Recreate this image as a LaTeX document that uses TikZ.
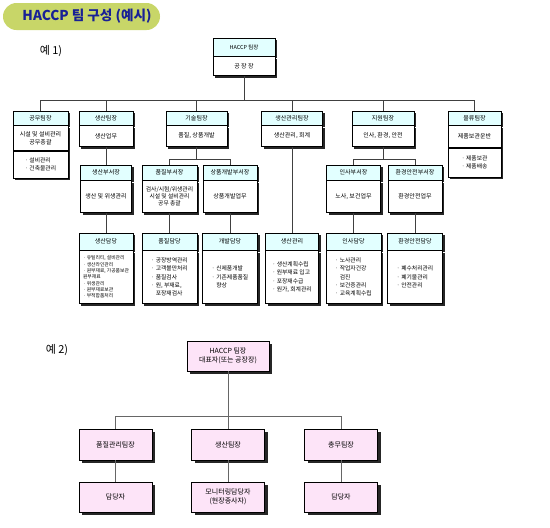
\documentclass[tikz,border=0pt]{standalone}
\usepackage{fontspec}
\setmainfont{Noto Sans CJK KR}
\usetikzlibrary{positioning,shadows}
\definecolor{cian}{RGB}{226,255,255}
\definecolor{rosa}{RGB}{253,228,248}
\definecolor{oliva}{RGB}{200,214,104}
\definecolor{azul}{RGB}{24,32,150}

\begin{document}
\begin{tikzpicture}[x=1pt,y=-1pt]
	\useasboundingbox (0,0) rectangle (550,528);

	%DEFINICIONES
	\tikzstyle{every node}=[font=\fontsize{6}{8}\selectfont]
	\tikzstyle{sombra} = [drop shadow={shadow xshift=2pt, shadow yshift=-2pt, fill=black!85, opacity=1}]
	\tikzstyle{cabeza} = [draw, sombra, fill=cian, line width=0.5pt, inner sep=0pt, align=center]
	\tikzstyle{cuerpo} = [draw, sombra, fill=white, line width=0.5pt, inner sep=0pt, align=center]
	\tikzstyle{lista} = [cuerpo, align=left, font=\fontsize{5.8}{8.4}\selectfont]
	\tikzstyle{caja} = [draw, fill=rosa, line width=0.5pt, inner sep=0pt, align=center, font=\fontsize{7}{9}\selectfont, drop shadow={shadow xshift=3pt, shadow yshift=-3pt, fill=black!85, opacity=1}, minimum width=73, minimum height=31]
	\tikzstyle{linea} = [line width=0.7pt, black!75]
	\tikzstyle{linea2} = [line width=0.9pt, black!60]

	%TITULO
	\draw(81.5,16.5) node[fill=oliva, rounded corners=13.5, minimum width=157, minimum height=27](pildora){};
	\draw(87,16.5) node[font=\fontsize{13.6}{15}\selectfont\bfseries, text=azul](titulo){HACCP 팀 구성 (예시)};
	\draw(51,51) node[font=\fontsize{11}{13}\selectfont](ej1){예 1)};
	\draw(57,350) node[font=\fontsize{11}{13}\selectfont](ej2){예 2)};

	%BLOQUES EJEMPLO 1
	\draw(244,47) node[cabeza, minimum width=62, minimum height=18, font=\fontsize{5.5}{7}\selectfont](jefe){HACCP 팀장};
	\node[cuerpo, minimum width=62, minimum height=19, below=0pt of jefe](jefe-b){공 장 장};

	\draw(40.5,118) node[cabeza, minimum width=55, minimum height=14](gm){공무팀장};
	\node[cuerpo, minimum width=55, minimum height=25, below=0pt of gm](gm-b){시설 및 설비관리\\공무총괄};
	\node[lista, minimum width=55, minimum height=27, below=0pt of gm-b](gm-c){· 설비관리\\· 건축물관리};

	\draw(106,118) node[cabeza, minimum width=54, minimum height=14](st){생산팀장};
	\node[cuerpo, minimum width=54, minimum height=21, below=0pt of st](st-b){생산업무};

	\draw(196.5,118) node[cabeza, minimum width=61, minimum height=14](gs){기술팀장};
	\node[cuerpo, minimum width=61, minimum height=21, below=0pt of gs](gs-b){품질, 상품개발};

	\draw(292,118) node[cabeza, minimum width=61, minimum height=14](sg){생산관리팀장};
	\node[cuerpo, minimum width=61, minimum height=21, below=0pt of sg](sg-b){생산관리, 회계};

	\draw(383,118) node[cabeza, minimum width=62, minimum height=14](jw){지원팀장};
	\node[cuerpo, minimum width=62, minimum height=21, below=0pt of jw](jw-b){인사, 환경, 안전};

	\draw(474.5,118) node[cabeza, minimum width=53, minimum height=14](ml){물류팀장};
	\node[cuerpo, minimum width=53, minimum height=22, below=0pt of ml](ml-b){제품보관운반};
	\node[lista, minimum width=53, minimum height=29, below=0pt of ml-b](ml-c){· 제품보관\\· 제품배송};

	\draw(106,172.5) node[cabeza, minimum width=51, minimum height=15](ssb){생산부서장};
	\node[cuerpo, minimum width=51, minimum height=32, below=0pt of ssb](ssb-b){생산 및 위생관리};

	\draw(169.5,172.5) node[cabeza, minimum width=55, minimum height=15](pjb){품질부서장};
	\node[cuerpo, minimum width=55, minimum height=32, below=0pt of pjb, font=\fontsize{5.8}{7}\selectfont](pjb-b){검사/시험/위생관리\\시설 및 설비관리\\공무 총괄};

	\draw(230,172.5) node[cabeza, minimum width=54, minimum height=15](sgb){상품개발부서장};
	\node[cuerpo, minimum width=54, minimum height=32, below=0pt of sgb](sgb-b){상품개발업무};

	\draw(353.5,172.5) node[cabeza, minimum width=54, minimum height=15](isb){인사부서장};
	\node[cuerpo, minimum width=54, minimum height=32, below=0pt of isb](isb-b){노사, 보건업무};

	\draw(415,172.5) node[cabeza, minimum width=54, minimum height=15](hab){환경안전부서장};
	\node[cuerpo, minimum width=54, minimum height=32, below=0pt of hab](hab-b){환경안전업무};

	\draw(106,241.5) node[cabeza, minimum width=54, minimum height=17](sd){생산담당};
	\node[lista, minimum width=54, minimum height=53, below=0pt of sd, font=\fontsize{4.8}{6.3}\selectfont](sd-b){· 유틸리티, 설비관리\\· 생산라인관리\\· 원부재료, 가공품보관\\원부재료\\· 위생관리\\· 원부재료보관\\· 부적합품처리};

	\draw(169.5,241.5) node[cabeza, minimum width=55, minimum height=17](pd){품질담당};
	\node[lista, minimum width=55, minimum height=53, below=0pt of pd](pd-b){· 공장방역관리\\· 고객불만처리\\· 품질검사\\· 원, 부재료,\\\phantom{·} 포장재검사};

	\draw(230,241.5) node[cabeza, minimum width=55, minimum height=17](gd){개발담당};
	\node[lista, minimum width=55, minimum height=53, below=0pt of gd](gd-b){· 신제품개발\\· 기존제품품질\\\phantom{· }향상};

	\draw(292,241.5) node[cabeza, minimum width=53, minimum height=17](sgd){생산관리};
	\node[lista, minimum width=53, minimum height=53, below=0pt of sgd](sgd-b){· 생산계획수립\\· 원부재료 입고\\· 포장재수급\\· 원가, 회계관리};

	\draw(353.5,241.5) node[cabeza, minimum width=55, minimum height=17](id){인사담당};
	\node[lista, minimum width=55, minimum height=53, below=0pt of id](id-b){· 노사관리\\· 작업자건강\\\phantom{· }검진\\· 보건증관리\\· 교육계획수립};

	\draw(415,241.5) node[cabeza, minimum width=55, minimum height=17](hd){환경안전담당};
	\node[lista, minimum width=55, minimum height=53, below=0pt of hd](hd-b){· 폐수처리관리\\· 폐기물관리\\· 안전관리};

	%LINEAS EJEMPLO 1
	\coordinate (bus1) at (0,100);
	\coordinate (bus2) at (0,159);
	\draw[linea] (jefe-b.south) -- (jefe-b.south |- bus1);
	\draw[linea] (gm.north) |- (jefe-b.south |- bus1);
	\draw[linea] (st.north) |- (jefe-b.south |- bus1);
	\draw[linea] (gs.north) |- (jefe-b.south |- bus1);
	\draw[linea] (sg.north) |- (jefe-b.south |- bus1);
	\draw[linea] (jw.north) |- (jefe-b.south |- bus1);
	\draw[linea] (ml.north) |- (jefe-b.south |- bus1);

	\draw[linea] (st-b.south) -- (ssb.north);
	\draw[linea] (gs-b.south) -- (gs-b.south |- bus2);
	\draw[linea] (pjb.north) |- (gs-b.south |- bus2);
	\draw[linea] (sgb.north) |- (gs-b.south |- bus2);
	\draw[linea] (jw-b.south) -- (jw-b.south |- bus2);
	\draw[linea] (isb.north) |- (jw-b.south |- bus2);
	\draw[linea] (hab.north) |- (jw-b.south |- bus2);

	\draw[linea] (ssb-b.south) -- (sd.north);
	\draw[linea] (pjb-b.south) -- (pd.north);
	\draw[linea] (sgb-b.south) -- (gd.north);
	\draw[linea] (sg-b.south) -- (sgd.north);
	\draw[linea] (isb-b.south) -- (id.north);
	\draw[linea] (hab-b.south) -- (hd.north);

	%BLOQUES EJEMPLO 2
	\draw(228,356) node[caja, minimum width=82, minimum height=30](rep){HACCP 팀장\\대표자(또는 공장장)};
	\draw(115.5,444.5) node[caja](pq){품질관리팀장};
	\draw(228,444.5) node[caja](pr){생산팀장};
	\draw(341,444.5) node[caja](ch){총무팀장};
	\draw(115.5,497) node[caja, minimum height=30](pq-d){담당자};
	\draw(228,497) node[caja, minimum height=30](pr-d){모니터링담당자\\(현장종사자)};
	\draw(341,497) node[caja, minimum height=30](ch-d){담당자};

	%LINEAS EJEMPLO 2
	\coordinate (bus3) at (0,416);
	\draw[linea2] (rep.south) -- (rep.south |- bus3);
	\draw[linea2] (pq.north) |- (rep.south |- bus3);
	\draw[linea2] (pr.north) |- (rep.south |- bus3);
	\draw[linea2] (ch.north) |- (rep.south |- bus3);
	\draw[linea2] (pq.south) -- (pq-d.north);
	\draw[linea2] (pr.south) -- (pr-d.north);
	\draw[linea2] (ch.south) -- (ch-d.north);
\end{tikzpicture}
\end{document}
